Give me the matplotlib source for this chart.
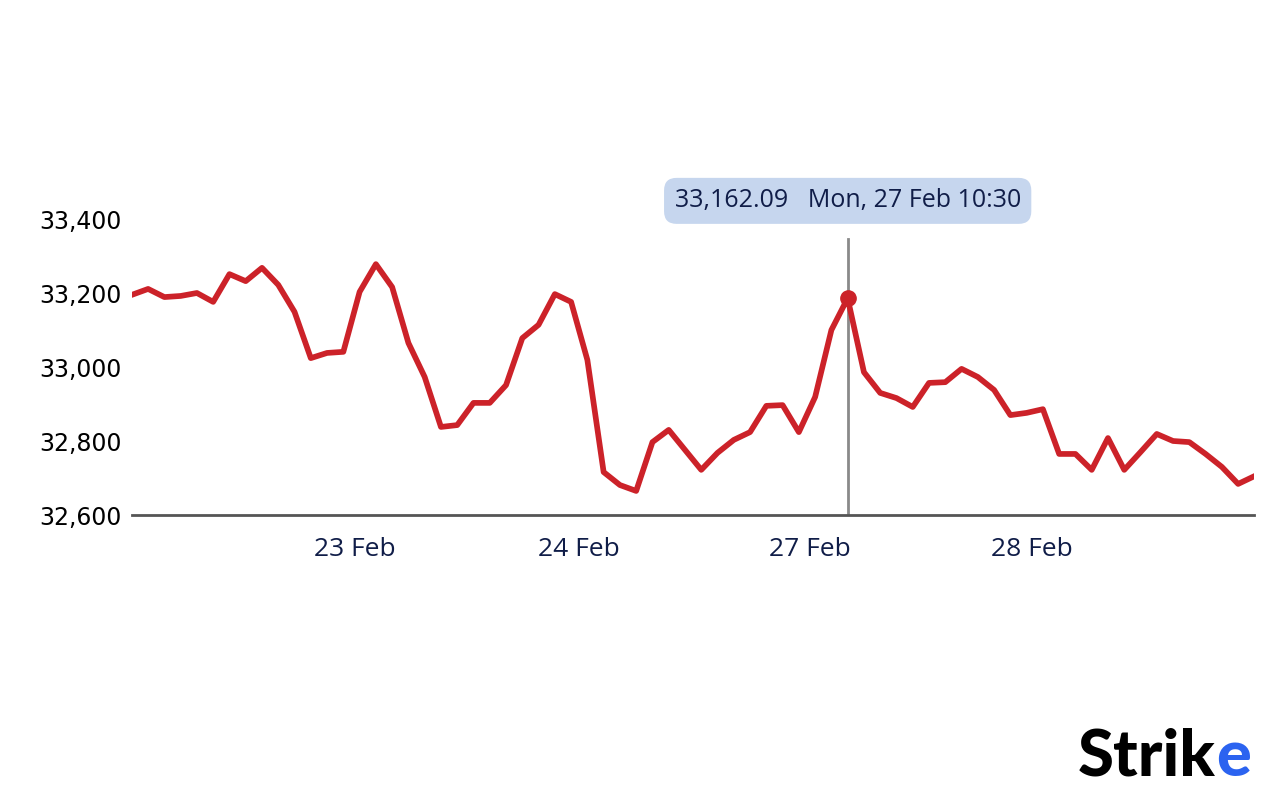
import matplotlib
matplotlib.use("Agg")
import matplotlib.pyplot as plt
import numpy as np

# index price, one point per half hour
prices = [33195, 33211, 33189, 33192, 33200, 33176, 33251, 33232, 33268, 33222,
          33149, 33024, 33038, 33041, 33203, 33278, 33216, 33065, 32973, 32838,
          32843, 32903, 32903, 32951, 33078, 33114, 33197, 33176, 33019, 32716,
          32681, 32665, 32797, 32830, 32776, 32722, 32768, 32803, 32824, 32895,
          32897, 32824, 32919, 33100, 33186, 32986, 32930, 32916, 32892, 32957,
          32959, 32995, 32973, 32938, 32870, 32876, 32886, 32765, 32765, 32722,
          32808, 32722, 32770, 32819, 32800, 32797, 32765, 32730, 32684, 32705]

day_ticks = [13.7, 27.5, 41.7, 55.3]
day_labels = ["23 Feb", "24 Feb", "27 Feb", "28 Feb"]

y_ticks = [32600, 32800, 33000, 33200, 33400]

hover_idx = 44
hover_text = "33,162.09   Mon, 27 Feb 10:30"

red = "#cc2229"
navy = "#101d48"

x = np.arange(len(prices))

fig = plt.figure(figsize=(12.8, 8), dpi=100)
ax = fig.add_axes([0.103, 0.35625, 0.877, 0.41625])

ax.plot(x, prices, color=red, lw=4.1, solid_joinstyle="round", zorder=3)
ax.axvline(hover_idx, ymin=0.005, ymax=0.83, color="#8a8a8a", lw=2, zorder=2)
ax.plot(hover_idx, prices[hover_idx], "o", color=red, ms=11, zorder=4)

ax.set_xlim(0, len(prices) - 1)
ax.set_ylim(32600, 33500)

for s in ["top", "right", "left"]:
    ax.spines[s].set_visible(False)
ax.spines["bottom"].set_color("#555555")
ax.spines["bottom"].set_linewidth(2)

ax.set_yticks(y_ticks)
ax.set_yticklabels([f"{v:,}" for v in y_ticks], fontsize=17, family="DejaVu Sans")
ax.set_xticks(day_ticks)
ax.set_xticklabels(day_labels, fontsize=19, color=navy, family="Open Sans")
ax.tick_params(axis="y", length=0, pad=7)
ax.tick_params(axis="x", length=0, pad=16)

# hover tooltip above the highlighted point
ax.annotate(hover_text, xy=(hover_idx, 33449), xycoords="data",
            ha="center", va="center",
            fontsize=18, color=navy, family="Open Sans", annotation_clip=False,
            bbox=dict(boxstyle="round,pad=0.42,rounding_size=0.5",
                      fc="#c6d6ee", ec="none"))

# logo
t1 = fig.text(0.842, 0.03, "Strik", fontsize=47, fontweight="black",
              family="Lato", color="black", va="baseline")
ax.annotate("e", xy=(1, 0), xycoords=t1, va="bottom", ha="left",
            fontsize=47, fontweight="black", family="Lato", color="#2b63f0",
            annotation_clip=False)

fig.savefig("out.png", dpi=100)
